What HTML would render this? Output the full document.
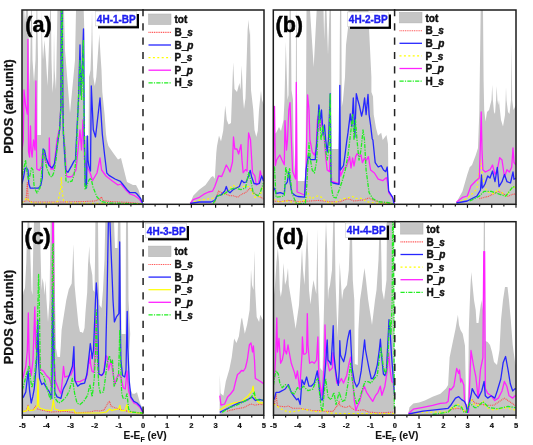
<!DOCTYPE html>
<html><head><meta charset="utf-8"><style>html,body{margin:0;padding:0;background:#fff;overflow:hidden}svg{display:block;filter:blur(0.3px)}</style></head><body>
<svg width="533" height="445" viewBox="0 0 533 445" font-family="Liberation Sans, Arial, sans-serif">
<rect width="533" height="445" fill="#fff"/>
<clipPath id="clipa"><rect x="22" y="10" width="242" height="194.3"/></clipPath>
<g clip-path="url(#clipa)">
<polygon points="22.0,205.0 22.0,10.0 24.3,10.0 25.0,25.0 26.0,10.0 28.0,10.0 28.8,40.0 29.5,90.0 30.3,60.0 31.1,10.0 31.9,10.0 32.5,60.0 34.0,82.0 35.5,60.0 36.5,10.0 37.3,10.0 38.0,60.0 37.6,100.0 37.5,135.0 41.0,135.0 41.2,80.0 41.6,10.0 42.2,40.0 43.0,60.0 44.5,40.0 46.0,60.0 47.5,86.0 48.5,60.0 50.1,10.0 50.9,10.0 51.5,60.0 52.5,93.0 53.5,80.0 54.0,30.0 54.6,70.0 56.0,90.0 57.4,10.0 64.0,10.0 65.0,50.0 70.0,113.0 75.0,60.0 76.0,10.0 83.7,10.0 84.6,40.0 85.0,136.0 88.6,136.0 89.0,77.0 89.5,75.0 90.5,70.0 91.5,40.0 92.0,10.0 92.5,40.0 93.3,77.0 94.8,86.0 96.3,77.0 97.5,60.0 99.3,34.0 100.5,55.0 101.5,70.0 102.3,92.0 104.6,114.6 106.0,134.0 106.8,140.0 108.4,146.0 113.6,153.6 118.0,159.6 121.0,158.0 124.0,170.0 127.0,182.0 133.0,185.0 136.0,185.0 138.5,189.7 142.2,201.7 143.0,205.0" fill="#c5c5c5"/>
<polygon points="190.2,205.0 190.2,203.5 193.2,195.8 199.4,189.6 205.5,185.0 211.0,177.3 213.0,176.0 214.8,178.8 216.3,152.7 217.0,146.0 219.0,135.4 221.0,141.5 223.2,130.8 225.2,105.4 226.8,120.0 228.6,124.6 231.0,123.0 233.2,62.3 234.5,89.0 237.0,92.0 239.4,83.0 240.5,90.0 241.7,65.4 243.0,98.0 244.0,109.0 245.5,98.0 247.6,30.0 248.5,19.8 249.5,35.0 250.0,27.8 251.0,90.0 253.2,109.0 254.5,130.0 256.3,137.0 257.8,130.8 259.0,110.0 260.0,100.0 261.0,90.8 262.0,100.0 264.0,105.0 265.0,205.0" fill="#c5c5c5"/>
<polyline points="22.0,202.0 26.0,201.0 27.4,182.0 28.2,201.0 33.0,202.0 60.0,202.0 85.0,201.5 95.0,201.0 100.0,199.0 101.5,197.0 103.0,200.5 110.0,201.5 130.0,202.5 143.0,204.0" fill="none" stroke="#ff4c4c" stroke-width="1.1" stroke-linejoin="round" stroke-dasharray="1 0.8"/>
<polyline points="214.8,202.0 218.6,191.0 222.5,193.5 226.3,194.2 230.0,195.8 233.2,195.8 237.8,197.3 241.7,194.2 245.5,192.7 250.2,188.0 253.2,192.7 257.8,195.8 260.9,197.3 263.2,198.8 264.0,199.0" fill="none" stroke="#ff4c4c" stroke-width="1.1" stroke-linejoin="round" stroke-dasharray="1 0.8"/>
<polyline points="22.0,203.0 25.0,200.0 27.0,197.5 29.0,201.0 33.0,203.0 55.0,203.0 58.0,201.0 60.5,190.0 61.3,177.0 62.0,190.0 63.5,201.0 70.0,203.0 143.0,204.0" fill="none" stroke="#ffff00" stroke-width="1.2" stroke-linejoin="round" stroke-dasharray="2 2.4"/>
<polyline points="190.2,203.5 199.4,200.4 213.2,198.0 217.0,195.8 224.0,194.2 228.0,190.0 233.2,185.0 236.3,188.0 239.4,184.2 242.5,186.5 248.6,186.5 251.7,191.2 254.8,197.3 260.0,196.5 262.5,186.5 264.0,186.0" fill="none" stroke="#ffff00" stroke-width="1.2" stroke-linejoin="round" stroke-dasharray="2 2.4"/>
<polyline points="22.0,150.0 23.3,140.0 24.0,90.0 25.5,105.0 27.4,114.0 27.9,39.3 28.5,151.6 29.5,157.0 30.5,126.0 31.2,150.0 32.1,157.0 33.5,140.0 35.0,150.0 35.9,81.0 36.5,150.0 36.8,169.0 39.5,170.4 41.5,166.4 42.3,155.0 43.6,150.0 45.6,161.0 47.0,163.0 49.0,163.7 49.3,138.0 49.8,163.0 51.0,169.0 53.7,169.0 54.3,164.0 57.0,140.0 59.6,128.0 60.9,105.0 61.3,10.0 62.2,10.0 62.8,100.0 63.5,134.0 65.0,150.0 66.5,175.8 68.0,177.0 72.0,176.5 76.0,170.0 78.0,150.0 80.0,130.0 81.5,150.0 83.0,120.0 84.5,160.0 86.5,166.0 88.8,170.0 90.5,174.0 92.5,180.7 97.0,173.0 100.0,158.0 101.6,170.0 106.0,176.0 112.0,180.7 118.0,185.0 121.0,184.0 125.7,189.7 130.0,194.0 134.7,195.7 139.0,198.7 142.2,203.0 143.0,204.5" fill="none" stroke="#ff22ff" stroke-width="1.3" stroke-linejoin="round"/>
<polyline points="190.2,203.5 193.2,199.6 199.4,197.3 204.0,194.2 208.6,192.0 212.5,191.2 214.8,186.5 218.6,175.8 221.7,176.5 224.0,171.0 226.3,165.0 228.0,168.0 230.0,172.0 232.5,162.0 233.5,137.0 234.8,149.0 237.0,149.0 238.6,154.0 241.0,144.6 242.0,160.4 243.2,172.7 245.5,169.6 247.0,171.0 248.6,133.0 250.5,140.0 252.5,172.7 254.8,175.8 256.3,185.0 258.6,183.5 260.2,171.0 261.7,177.3 263.2,178.8 264.0,179.0" fill="none" stroke="#ff22ff" stroke-width="1.3" stroke-linejoin="round"/>
<polyline points="22.0,183.7 23.5,177.6 25.0,168.6 26.5,167.9 28.0,170.1 28.8,183.7 30.3,188.2 35.6,188.2 38.6,188.2 40.8,185.2 42.3,177.6 43.1,149.0 44.6,150.5 46.1,158.0 49.1,165.6 52.1,167.9 54.4,164.1 55.9,155.0 57.4,144.5 59.6,130.0 60.9,107.0 61.3,10.0 62.2,10.0 62.8,100.0 63.4,134.0 64.9,159.6 65.7,170.1 67.9,172.4 71.7,165.6 74.0,161.1 75.5,159.6 76.2,144.5 78.5,100.0 80.0,45.0 81.0,95.0 82.0,75.0 83.5,28.8 84.0,100.0 84.4,140.0 85.3,185.0 86.5,188.0 87.3,136.0 88.0,160.0 88.8,165.6 90.5,171.0 91.3,86.0 93.3,129.7 95.5,137.0 100.0,98.0 102.3,134.0 104.6,155.0 106.8,173.0 109.0,175.4 115.0,179.0 120.4,181.4 122.5,184.0 127.0,189.7 130.0,192.7 135.5,192.7 137.0,194.0 140.7,198.7 142.2,202.5 143.0,204.5" fill="none" stroke="#2626ff" stroke-width="1.3" stroke-linejoin="round"/>
<polyline points="190.2,203.5 199.4,202.0 211.0,202.0 214.8,200.4 217.0,195.8 221.0,195.0 224.8,191.0 226.3,186.5 227.8,191.0 230.0,192.7 233.2,189.6 236.3,188.0 239.4,186.5 241.7,180.4 244.0,182.7 246.3,182.0 248.6,175.8 250.2,170.4 251.7,177.3 254.0,183.5 257.1,184.2 259.4,183.5 261.7,175.8 263.2,180.4 264.0,181.0" fill="none" stroke="#2626ff" stroke-width="1.3" stroke-linejoin="round"/>
<polyline points="22.0,175.0 24.0,168.0 25.5,160.0 27.0,172.0 28.5,180.0 30.0,175.0 31.5,168.0 33.0,170.0 34.0,185.0 35.5,190.0 37.0,193.0 38.5,190.0 40.0,188.0 41.5,175.0 43.0,150.0 44.5,155.0 46.0,165.0 47.5,170.0 50.0,176.0 52.0,177.0 54.0,172.0 56.0,160.0 58.0,140.0 59.8,128.0 60.9,105.0 61.3,10.0 62.2,10.0 62.8,100.0 63.5,134.0 65.0,150.0 65.5,170.0 66.0,181.0 68.0,182.0 72.0,181.0 74.0,175.0 76.0,160.0 78.0,110.0 80.0,60.0 81.5,100.0 83.3,40.0 84.0,120.0 84.6,150.0 85.0,189.7 87.0,185.0 89.0,180.0 91.0,178.0 93.0,187.0 97.0,197.0 101.6,201.7 110.0,203.0 143.0,204.0" fill="none" stroke="#22ee22" stroke-width="1.3" stroke-linejoin="round" stroke-dasharray="4.2 1.2 1.2 1.2"/>
<polyline points="213.2,203.5 217.8,195.8 224.0,194.2 230.0,189.6 235.0,188.0 241.0,189.6 245.5,188.0 248.6,172.7 250.8,180.4 253.2,192.7 257.8,195.8 260.1,192.7 263.2,183.5 264.0,183.0" fill="none" stroke="#22ee22" stroke-width="1.3" stroke-linejoin="round" stroke-dasharray="4.2 1.2 1.2 1.2"/>
</g>
<line x1="143.0" y1="9" x2="143.0" y2="204.3" stroke="#222" stroke-width="1.5" stroke-dasharray="7.2 7.1"/>
<rect x="22" y="10" width="242.0" height="194.3" fill="none" stroke="#1c1c1c" stroke-width="1.5"/>
<line x1="22.00" y1="204.3" x2="22.00" y2="207.8" stroke="#1c1c1c" stroke-width="1.2"/>
<line x1="34.10" y1="204.3" x2="34.10" y2="206.60000000000002" stroke="#1c1c1c" stroke-width="1.2"/>
<line x1="46.20" y1="204.3" x2="46.20" y2="207.8" stroke="#1c1c1c" stroke-width="1.2"/>
<line x1="58.30" y1="204.3" x2="58.30" y2="206.60000000000002" stroke="#1c1c1c" stroke-width="1.2"/>
<line x1="70.40" y1="204.3" x2="70.40" y2="207.8" stroke="#1c1c1c" stroke-width="1.2"/>
<line x1="82.50" y1="204.3" x2="82.50" y2="206.60000000000002" stroke="#1c1c1c" stroke-width="1.2"/>
<line x1="94.60" y1="204.3" x2="94.60" y2="207.8" stroke="#1c1c1c" stroke-width="1.2"/>
<line x1="106.70" y1="204.3" x2="106.70" y2="206.60000000000002" stroke="#1c1c1c" stroke-width="1.2"/>
<line x1="118.80" y1="204.3" x2="118.80" y2="207.8" stroke="#1c1c1c" stroke-width="1.2"/>
<line x1="130.90" y1="204.3" x2="130.90" y2="206.60000000000002" stroke="#1c1c1c" stroke-width="1.2"/>
<line x1="143.00" y1="204.3" x2="143.00" y2="207.8" stroke="#1c1c1c" stroke-width="1.2"/>
<line x1="155.10" y1="204.3" x2="155.10" y2="206.60000000000002" stroke="#1c1c1c" stroke-width="1.2"/>
<line x1="167.20" y1="204.3" x2="167.20" y2="207.8" stroke="#1c1c1c" stroke-width="1.2"/>
<line x1="179.30" y1="204.3" x2="179.30" y2="206.60000000000002" stroke="#1c1c1c" stroke-width="1.2"/>
<line x1="191.40" y1="204.3" x2="191.40" y2="207.8" stroke="#1c1c1c" stroke-width="1.2"/>
<line x1="203.50" y1="204.3" x2="203.50" y2="206.60000000000002" stroke="#1c1c1c" stroke-width="1.2"/>
<line x1="215.60" y1="204.3" x2="215.60" y2="207.8" stroke="#1c1c1c" stroke-width="1.2"/>
<line x1="227.70" y1="204.3" x2="227.70" y2="206.60000000000002" stroke="#1c1c1c" stroke-width="1.2"/>
<line x1="239.80" y1="204.3" x2="239.80" y2="207.8" stroke="#1c1c1c" stroke-width="1.2"/>
<line x1="251.90" y1="204.3" x2="251.90" y2="206.60000000000002" stroke="#1c1c1c" stroke-width="1.2"/>
<line x1="264.00" y1="204.3" x2="264.00" y2="207.8" stroke="#1c1c1c" stroke-width="1.2"/>
<text x="25.3" y="32.3" font-size="21.5" font-weight="bold" fill="#000" stroke="#000" stroke-width="0.5">(a)</text>
<rect x="98.0" y="14.0" width="41" height="14.4" fill="#000"/>
<rect x="95.5" y="11.5" width="41" height="14.4" fill="#fff" stroke="#d0d0d0" stroke-width="0.6"/>
<text x="116.3" y="22.7" font-size="10" font-weight="bold" text-anchor="middle" fill="#1e1ef0" stroke="#1e1ef0" stroke-width="0.35">4H-1-BP</text>
<rect x="148.5" y="14" width="22.5" height="10.6" fill="#c5c5c5" stroke="#b0b0b0" stroke-width="0.5"/>
<text x="174.5" y="23.2" font-size="10" font-weight="bold" fill="#111" stroke="#111" stroke-width="0.45">tot</text>
<line x1="148.5" y1="32.4" x2="171.0" y2="32.4" stroke="#ff4c4c" stroke-width="1.1" stroke-dasharray="1 0.8"/>
<text x="174.5" y="36.0" font-size="10" font-weight="bold" fill="#111" stroke="#111" stroke-width="0.45">B_<tspan font-style="italic">s</tspan></text>
<line x1="148.5" y1="45.0" x2="171.0" y2="45.0" stroke="#2626ff" stroke-width="1.3"/>
<text x="174.5" y="48.6" font-size="10" font-weight="bold" fill="#111" stroke="#111" stroke-width="0.45">B_<tspan font-style="italic">p</tspan></text>
<line x1="148.5" y1="57.6" x2="171.0" y2="57.6" stroke="#ffff00" stroke-width="1.2" stroke-dasharray="2 2.4"/>
<text x="174.5" y="61.2" font-size="10" font-weight="bold" fill="#111" stroke="#111" stroke-width="0.45">P_<tspan font-style="italic">s</tspan></text>
<line x1="148.5" y1="70.2" x2="171.0" y2="70.2" stroke="#ff22ff" stroke-width="1.3"/>
<text x="174.5" y="73.8" font-size="10" font-weight="bold" fill="#111" stroke="#111" stroke-width="0.45">P_<tspan font-style="italic">p</tspan></text>
<line x1="148.5" y1="82.8" x2="171.0" y2="82.8" stroke="#22ee22" stroke-width="1.3" stroke-dasharray="4.2 1.2 1.2 1.2"/>
<text x="174.5" y="86.4" font-size="10" font-weight="bold" fill="#111" stroke="#111" stroke-width="0.45">H_<tspan font-style="italic">s</tspan></text>
<clipPath id="clipb"><rect x="273.3" y="10" width="242.7" height="194.3"/></clipPath>
<g clip-path="url(#clipb)">
<polygon points="273.3,205.0 273.3,134.0 276.0,133.0 279.0,127.0 281.0,131.0 283.5,120.0 284.5,100.0 285.8,41.6 287.5,100.0 288.5,95.0 289.6,10.0 290.8,10.0 291.5,90.0 293.0,100.0 293.5,140.0 294.5,165.0 295.5,178.0 296.0,30.0 296.4,10.0 296.8,30.0 297.3,181.0 305.5,181.0 306.0,100.0 306.5,10.0 310.0,10.0 313.7,67.0 316.7,10.0 323.5,10.0 324.2,40.0 325.0,10.0 326.5,10.0 328.0,55.0 329.5,10.0 331.0,10.0 331.5,149.0 338.5,149.0 339.3,120.0 340.0,10.0 341.3,10.0 341.8,107.0 343.0,100.0 345.0,77.0 346.0,45.0 348.0,28.0 348.5,10.0 368.5,10.0 369.0,28.0 371.4,77.0 371.4,92.0 373.0,96.6 373.7,114.6 376.0,128.0 378.0,135.7 381.2,132.7 382.7,140.0 386.5,135.0 388.0,144.0 388.5,190.0 391.0,196.0 394.0,203.0 394.6,205.0" fill="#c5c5c5"/>
<polygon points="456.4,205.0 456.4,202.2 462.4,191.4 467.3,174.5 469.7,167.3 472.0,165.0 475.7,155.3 478.0,148.0 479.3,112.0 480.7,10.0 483.0,10.0 483.6,80.0 484.2,110.0 485.5,121.6 487.0,112.0 489.0,110.0 491.5,100.0 492.2,84.8 492.9,100.0 494.0,112.0 495.0,114.0 496.0,100.0 496.7,86.0 497.4,100.0 498.3,105.0 499.0,99.7 499.7,108.0 501.0,120.0 503.0,126.4 505.0,115.0 505.6,100.0 506.0,87.0 506.5,100.0 508.0,112.0 509.5,114.0 511.0,100.0 511.6,43.5 512.2,100.0 513.5,110.0 516.0,105.0 517.0,205.0" fill="#c5c5c5"/>
<polyline points="273.3,201.0 280.0,201.7 288.0,200.4 300.0,201.7 318.0,200.4 330.0,201.7 340.0,201.7 348.0,198.7 354.0,201.0 363.0,200.0 369.0,198.0 375.0,201.0 385.7,202.5 394.6,204.0" fill="none" stroke="#ff4c4c" stroke-width="1.1" stroke-linejoin="round" stroke-dasharray="1 0.8"/>
<polyline points="479.3,198.6 488.9,196.2 498.5,191.4 508.0,196.2 514.0,193.8 516.0,195.0" fill="none" stroke="#ff4c4c" stroke-width="1.1" stroke-linejoin="round" stroke-dasharray="1 0.8"/>
<polyline points="273.3,199.5 274.5,199.5 279.0,201.7 288.0,201.0 295.6,203.3 305.4,200.0 308.4,193.5 310.6,199.0 318.2,195.7 321.5,197.2 325.7,201.7 333.2,203.3 339.3,200.4 343.0,198.7 348.0,198.0 352.6,196.5 355.6,198.7 358.6,198.0 363.0,198.7 366.0,201.7 378.0,203.3 394.6,204.0" fill="none" stroke="#ffff00" stroke-width="1.2" stroke-linejoin="round" stroke-dasharray="2 2.4"/>
<polyline points="456.4,203.0 467.3,198.6 476.9,189.0 480.5,160.0 482.9,179.3 486.5,191.4 493.7,193.8 498.5,189.0 505.7,196.2 513.0,186.6 516.0,188.0" fill="none" stroke="#ffff00" stroke-width="1.2" stroke-linejoin="round" stroke-dasharray="2 2.4"/>
<polyline points="273.3,165.0 274.5,106.4 275.3,165.6 276.5,160.0 279.8,155.0 282.0,160.0 284.3,164.8 285.0,120.7 286.5,150.0 287.5,140.0 288.8,110.0 290.0,102.6 291.0,130.0 292.6,171.6 295.6,179.0 296.3,82.3 297.1,192.0 304.6,195.0 306.0,170.0 307.6,95.0 309.0,110.0 309.9,140.0 311.0,145.0 312.2,152.0 314.4,155.0 316.0,150.0 317.4,120.0 318.5,115.0 320.0,130.0 322.0,120.0 324.0,135.0 325.7,156.6 327.2,170.0 329.5,171.6 330.2,155.0 331.7,181.4 339.3,183.7 339.8,146.0 340.5,176.0 343.8,168.6 346.6,166.4 349.6,156.6 351.0,168.0 352.6,158.0 354.0,166.0 355.6,156.6 357.1,153.6 359.4,156.6 361.0,155.0 362.4,162.6 364.6,158.0 366.0,161.0 368.4,156.6 370.6,170.0 374.4,173.0 378.2,179.2 382.7,180.7 386.5,177.6 387.5,182.0 388.7,192.7 393.2,198.7 394.6,204.0" fill="none" stroke="#ff22ff" stroke-width="1.3" stroke-linejoin="round"/>
<polyline points="456.4,202.2 462.4,197.4 467.3,196.0 470.9,186.0 475.7,181.0 479.3,178.0 480.5,140.0 481.2,112.0 482.0,150.0 482.9,169.7 485.3,172.0 490.0,169.7 492.5,165.0 495.0,174.5 497.3,169.7 499.7,157.7 502.0,160.0 504.5,177.0 506.9,169.7 509.3,172.0 511.7,167.3 513.0,148.0 514.0,162.5 516.0,165.0" fill="none" stroke="#ff22ff" stroke-width="1.3" stroke-linejoin="round"/>
<polyline points="273.3,190.0 274.5,188.2 276.0,193.5 280.5,192.7 284.3,194.2 285.0,185.2 287.3,182.2 288.8,172.0 290.3,183.7 291.8,192.7 295.6,195.7 297.8,196.5 304.6,197.2 306.0,170.0 308.4,155.0 310.6,159.6 315.2,159.6 317.0,140.0 318.9,104.9 320.3,120.0 321.5,110.0 323.0,135.0 324.5,125.0 325.7,140.0 327.2,152.0 328.5,140.0 330.2,93.6 331.0,182.2 333.2,183.0 339.0,184.4 339.8,85.3 340.5,170.0 343.5,165.6 345.0,155.0 346.5,143.0 348.0,132.7 350.3,113.9 351.8,126.7 353.3,98.0 354.8,137.2 356.3,93.6 357.8,100.0 359.4,105.6 361.6,116.2 363.0,110.0 364.6,98.0 366.1,114.6 368.0,94.3 369.1,114.6 370.6,125.2 372.2,138.7 372.9,140.0 375.2,162.6 378.2,167.0 381.2,165.6 383.5,170.0 385.7,171.6 387.2,167.0 388.7,191.2 392.5,197.2 394.0,203.3 394.6,204.0" fill="none" stroke="#2626ff" stroke-width="1.3" stroke-linejoin="round"/>
<polyline points="456.4,203.0 467.3,201.0 476.9,196.2 480.5,190.0 481.5,175.0 482.2,188.0 483.5,186.6 485.0,184.0 487.7,176.0 490.0,178.0 492.5,171.0 495.0,181.7 497.3,167.3 499.0,186.6 502.0,181.7 504.5,174.5 507.0,181.7 510.5,183.0 513.0,172.0 514.0,179.3 516.0,178.0" fill="none" stroke="#2626ff" stroke-width="1.3" stroke-linejoin="round"/>
<polyline points="273.3,175.0 274.5,167.0 276.0,197.2 282.0,196.5 284.3,195.7 285.8,167.0 288.0,177.6 289.6,168.6 291.8,192.7 294.0,198.0 296.3,203.3 300.0,204.0 305.4,203.3 306.8,185.2 309.0,143.0 310.5,160.0 312.2,170.0 314.4,173.0 316.7,161.0 318.0,130.0 319.5,110.0 321.0,140.0 323.0,125.0 325.0,145.0 327.0,160.0 329.0,150.0 330.2,93.6 331.0,185.2 333.2,197.2 336.0,198.0 339.3,189.7 342.3,180.7 345.3,170.0 348.0,155.0 351.0,130.0 352.6,114.6 354.0,140.0 355.5,120.0 357.0,140.0 359.0,160.0 361.0,150.0 363.0,130.0 364.5,140.0 366.1,170.0 369.1,192.7 372.9,198.7 378.2,201.7 387.0,202.5 394.6,204.0" fill="none" stroke="#22ee22" stroke-width="1.3" stroke-linejoin="round" stroke-dasharray="4.2 1.2 1.2 1.2"/>
<polyline points="469.7,201.0 479.3,196.2 484.0,191.4 491.3,191.4 498.5,193.8 505.7,196.2 513.0,186.6 516.0,188.0" fill="none" stroke="#22ee22" stroke-width="1.3" stroke-linejoin="round" stroke-dasharray="4.2 1.2 1.2 1.2"/>
</g>
<line x1="394.6" y1="9" x2="394.6" y2="204.3" stroke="#222" stroke-width="1.5" stroke-dasharray="7.2 7.1"/>
<rect x="273.3" y="10" width="242.7" height="194.3" fill="none" stroke="#1c1c1c" stroke-width="1.5"/>
<line x1="273.30" y1="204.3" x2="273.30" y2="207.8" stroke="#1c1c1c" stroke-width="1.2"/>
<line x1="285.44" y1="204.3" x2="285.44" y2="206.60000000000002" stroke="#1c1c1c" stroke-width="1.2"/>
<line x1="297.57" y1="204.3" x2="297.57" y2="207.8" stroke="#1c1c1c" stroke-width="1.2"/>
<line x1="309.70" y1="204.3" x2="309.70" y2="206.60000000000002" stroke="#1c1c1c" stroke-width="1.2"/>
<line x1="321.84" y1="204.3" x2="321.84" y2="207.8" stroke="#1c1c1c" stroke-width="1.2"/>
<line x1="333.98" y1="204.3" x2="333.98" y2="206.60000000000002" stroke="#1c1c1c" stroke-width="1.2"/>
<line x1="346.11" y1="204.3" x2="346.11" y2="207.8" stroke="#1c1c1c" stroke-width="1.2"/>
<line x1="358.25" y1="204.3" x2="358.25" y2="206.60000000000002" stroke="#1c1c1c" stroke-width="1.2"/>
<line x1="370.38" y1="204.3" x2="370.38" y2="207.8" stroke="#1c1c1c" stroke-width="1.2"/>
<line x1="382.51" y1="204.3" x2="382.51" y2="206.60000000000002" stroke="#1c1c1c" stroke-width="1.2"/>
<line x1="394.65" y1="204.3" x2="394.65" y2="207.8" stroke="#1c1c1c" stroke-width="1.2"/>
<line x1="406.78" y1="204.3" x2="406.78" y2="206.60000000000002" stroke="#1c1c1c" stroke-width="1.2"/>
<line x1="418.92" y1="204.3" x2="418.92" y2="207.8" stroke="#1c1c1c" stroke-width="1.2"/>
<line x1="431.06" y1="204.3" x2="431.06" y2="206.60000000000002" stroke="#1c1c1c" stroke-width="1.2"/>
<line x1="443.19" y1="204.3" x2="443.19" y2="207.8" stroke="#1c1c1c" stroke-width="1.2"/>
<line x1="455.33" y1="204.3" x2="455.33" y2="206.60000000000002" stroke="#1c1c1c" stroke-width="1.2"/>
<line x1="467.46" y1="204.3" x2="467.46" y2="207.8" stroke="#1c1c1c" stroke-width="1.2"/>
<line x1="479.60" y1="204.3" x2="479.60" y2="206.60000000000002" stroke="#1c1c1c" stroke-width="1.2"/>
<line x1="491.73" y1="204.3" x2="491.73" y2="207.8" stroke="#1c1c1c" stroke-width="1.2"/>
<line x1="503.87" y1="204.3" x2="503.87" y2="206.60000000000002" stroke="#1c1c1c" stroke-width="1.2"/>
<line x1="516.00" y1="204.3" x2="516.00" y2="207.8" stroke="#1c1c1c" stroke-width="1.2"/>
<text x="275.5" y="32.3" font-size="21.5" font-weight="bold" fill="#000" stroke="#000" stroke-width="0.5">(b)</text>
<rect x="350.0" y="14.5" width="41" height="14.4" fill="#000"/>
<rect x="347.5" y="12" width="41" height="14.4" fill="#fff" stroke="#d0d0d0" stroke-width="0.6"/>
<text x="368.3" y="23.2" font-size="10" font-weight="bold" text-anchor="middle" fill="#1e1ef0" stroke="#1e1ef0" stroke-width="0.35">4H-2-BP</text>
<rect x="399.5" y="12.3" width="22.5" height="10.6" fill="#c5c5c5" stroke="#b0b0b0" stroke-width="0.5"/>
<text x="425.5" y="21.5" font-size="10" font-weight="bold" fill="#111" stroke="#111" stroke-width="0.45">tot</text>
<line x1="399.5" y1="30.7" x2="422.0" y2="30.7" stroke="#ff4c4c" stroke-width="1.1" stroke-dasharray="1 0.8"/>
<text x="425.5" y="34.3" font-size="10" font-weight="bold" fill="#111" stroke="#111" stroke-width="0.45">B_<tspan font-style="italic">s</tspan></text>
<line x1="399.5" y1="43.3" x2="422.0" y2="43.3" stroke="#2626ff" stroke-width="1.3"/>
<text x="425.5" y="46.9" font-size="10" font-weight="bold" fill="#111" stroke="#111" stroke-width="0.45">B_<tspan font-style="italic">p</tspan></text>
<line x1="399.5" y1="55.9" x2="422.0" y2="55.9" stroke="#ffff00" stroke-width="1.2" stroke-dasharray="2 2.4"/>
<text x="425.5" y="59.5" font-size="10" font-weight="bold" fill="#111" stroke="#111" stroke-width="0.45">P_<tspan font-style="italic">s</tspan></text>
<line x1="399.5" y1="68.5" x2="422.0" y2="68.5" stroke="#ff22ff" stroke-width="1.3"/>
<text x="425.5" y="72.1" font-size="10" font-weight="bold" fill="#111" stroke="#111" stroke-width="0.45">P_<tspan font-style="italic">p</tspan></text>
<line x1="399.5" y1="81.1" x2="422.0" y2="81.1" stroke="#22ee22" stroke-width="1.3" stroke-dasharray="4.2 1.2 1.2 1.2"/>
<text x="425.5" y="84.7" font-size="10" font-weight="bold" fill="#111" stroke="#111" stroke-width="0.45">H_<tspan font-style="italic">s</tspan></text>
<clipPath id="clipc"><rect x="22.3" y="221.7" width="241.5" height="193.5"/></clipPath>
<g clip-path="url(#clipc)">
<polygon points="22.3,416.0 22.3,300.0 23.5,292.0 25.0,288.0 26.3,262.0 27.0,235.0 27.6,221.0 28.0,221.0 29.3,221.0 30.2,250.0 31.5,290.0 32.5,295.0 33.2,250.0 34.0,221.0 40.0,221.0 40.5,250.0 41.5,290.0 42.5,278.0 43.5,283.0 44.6,295.0 45.5,280.0 46.5,300.0 48.0,322.0 49.5,300.0 50.6,221.0 54.4,221.0 55.0,300.0 56.0,348.0 57.5,357.0 60.0,357.0 60.8,345.0 61.6,330.0 64.4,312.0 66.3,300.0 68.8,289.3 71.7,283.5 72.6,265.0 73.3,244.0 74.0,265.0 74.6,285.0 76.0,300.0 78.5,325.0 80.0,332.0 81.3,332.0 83.0,333.0 84.5,328.0 85.5,312.0 86.5,300.0 87.2,292.0 88.0,265.0 88.7,255.0 89.3,246.0 89.9,262.0 91.0,268.0 92.3,275.0 93.0,290.0 94.5,292.0 95.0,260.0 95.4,221.0 98.0,221.0 98.6,280.0 99.5,305.0 101.5,308.0 103.0,290.0 104.5,260.0 105.3,221.0 114.0,221.0 115.0,248.0 117.5,248.0 118.0,221.0 120.4,221.0 121.0,300.0 121.6,334.0 125.5,334.0 126.0,221.0 128.0,221.0 128.5,300.0 130.2,334.0 129.3,350.0 129.3,386.0 132.4,393.8 134.7,393.8 137.0,392.3 140.0,403.0 143.0,409.0 143.0,416.0" fill="#c5c5c5"/>
<polygon points="219.6,416.0 219.6,412.4 219.8,374.3 220.5,393.3 223.4,395.7 225.8,381.4 229.3,369.5 231.7,357.6 234.1,338.6 236.5,343.0 238.9,336.2 241.2,319.5 242.0,317.6 243.6,326.7 244.8,333.8 247.2,324.3 249.6,310.0 250.5,288.0 251.0,269.3 252.0,285.0 253.5,290.0 254.4,250.2 255.2,290.0 256.7,317.0 259.1,321.9 260.3,314.8 262.7,319.5 263.8,320.0 264.5,416.0" fill="#c5c5c5"/>
<polyline points="22.3,411.4 26.0,411.0 28.1,405.3 28.9,410.6 33.0,410.0 35.7,406.0 37.3,409.0 50.0,412.0 66.0,411.4 75.4,412.9 90.0,412.0 95.0,410.6 100.0,411.0 104.0,410.0 108.0,403.0 109.5,401.4 111.0,406.0 114.1,407.5 118.6,409.0 128.0,411.4 143.0,413.5" fill="none" stroke="#ff4c4c" stroke-width="1.1" stroke-linejoin="round" stroke-dasharray="1 0.8"/>
<polyline points="227.0,411.2 236.5,408.8 243.6,407.6 250.8,404.0 255.5,405.2 260.3,404.0 263.8,405.2" fill="none" stroke="#ff4c4c" stroke-width="1.1" stroke-linejoin="round" stroke-dasharray="1 0.8"/>
<polyline points="22.3,411.4 25.0,411.4 27.3,410.0 28.1,406.0 29.6,410.6 34.2,409.8 37.3,406.0 38.0,378.5 38.8,406.0 40.3,408.3 45.0,409.8 51.8,410.6 53.3,400.0 54.8,409.0 60.0,410.6 72.4,409.8 73.9,409.8 75.4,412.9 100.0,413.0 106.4,412.0 109.5,409.0 111.8,410.6 114.1,409.8 118.6,409.0 119.9,405.3 120.9,410.6 125.0,410.6 127.0,404.5 128.6,412.0 143.0,413.5" fill="none" stroke="#ffff00" stroke-width="1.2" stroke-linejoin="round"/>
<polyline points="219.8,410.0 227.0,405.2 234.1,402.9 241.2,401.7 248.4,395.7 252.0,391.0 253.1,386.2 254.3,395.7 256.7,400.5 259.1,402.9 263.8,402.9" fill="none" stroke="#ffff00" stroke-width="1.2" stroke-linejoin="round"/>
<polyline points="22.3,380.0 23.5,375.5 25.8,366.3 27.3,351.0 28.3,313.0 29.0,351.0 29.8,366.0 31.2,375.5 33.0,360.0 34.8,307.0 35.7,348.0 37.3,351.0 38.2,340.0 39.0,350.0 40.3,369.4 43.4,371.0 46.4,375.5 49.5,378.5 51.8,387.7 52.3,300.0 52.7,221.0 53.3,221.0 53.8,300.0 54.3,360.0 55.6,381.6 58.6,389.2 60.9,393.8 62.5,378.5 63.5,366.3 64.7,377.0 67.8,376.2 70.8,375.0 73.1,369.4 74.0,360.0 75.4,381.6 80.0,381.6 83.0,380.0 86.1,378.5 87.3,374.0 88.9,361.7 89.2,363.3 90.0,355.0 90.5,363.3 91.9,370.9 93.8,372.4 94.2,367.8 95.5,340.0 95.8,310.6 96.5,340.0 97.0,355.0 98.8,374.0 101.1,375.5 103.5,374.0 105.7,355.6 107.2,357.0 108.5,370.0 111.0,360.2 112.5,370.0 114.8,384.6 116.6,378.0 118.6,374.0 120.9,377.0 123.2,387.7 125.3,389.0 127.0,370.9 128.6,390.7 130.9,398.4 133.9,403.0 137.0,404.5 140.0,407.5 143.0,412.9" fill="none" stroke="#ff22ff" stroke-width="1.3" stroke-linejoin="round"/>
<polyline points="219.8,395.7 221.0,405.2 224.6,404.0 227.6,397.0 230.5,394.0 233.6,390.0 235.5,382.0 237.5,374.5 239.5,373.0 241.5,370.5 243.5,371.0 245.4,368.0 247.3,360.0 249.4,344.8 251.0,343.0 252.5,352.0 253.4,346.0 254.5,360.0 255.3,378.4 258.0,380.0 261.3,382.0 263.8,384.0" fill="none" stroke="#ff22ff" stroke-width="1.3" stroke-linejoin="round"/>
<polyline points="22.3,398.0 23.5,396.9 25.8,392.0 28.1,370.9 29.6,390.7 31.2,403.0 32.7,396.9 34.2,389.2 36.5,363.0 37.8,320.0 38.6,363.0 39.6,378.5 41.8,384.6 43.9,383.0 46.4,387.7 49.5,392.0 51.8,398.4 52.4,330.0 52.8,290.0 53.3,330.0 54.8,392.3 57.1,396.9 60.9,398.4 63.2,389.2 66.3,383.1 69.3,375.5 72.4,366.3 73.9,346.7 74.7,380.0 77.7,386.2 80.5,384.0 84.6,383.1 86.9,374.0 89.2,354.1 90.3,343.7 91.5,352.0 92.2,358.7 93.5,350.0 95.5,300.0 96.3,283.0 97.5,300.0 98.8,374.0 101.8,375.5 104.0,372.0 105.7,360.0 106.0,340.7 107.0,300.0 108.4,221.0 109.9,221.0 111.0,250.0 112.0,273.7 113.0,300.0 114.4,321.9 116.6,316.6 118.9,313.6 119.7,242.0 120.4,330.0 120.9,360.0 122.5,375.5 124.7,377.0 126.0,370.0 127.2,311.4 127.8,348.0 129.3,381.6 130.9,396.9 133.9,401.4 137.0,403.0 140.0,406.0 143.0,412.0" fill="none" stroke="#2626ff" stroke-width="1.3" stroke-linejoin="round"/>
<polyline points="219.8,412.4 227.0,408.8 234.1,405.2 238.9,402.9 243.6,401.7 248.4,399.3 252.0,396.9 255.5,400.5 259.1,399.3 263.8,400.5" fill="none" stroke="#2626ff" stroke-width="1.3" stroke-linejoin="round"/>
<polyline points="22.3,390.0 23.5,386.2 26.0,376.0 28.9,366.3 30.4,378.5 31.9,387.7 34.2,378.5 36.5,356.0 38.0,300.0 38.6,274.5 39.3,300.0 40.3,372.4 43.4,375.5 46.4,386.2 49.5,396.9 51.0,400.0 52.2,300.0 52.5,243.6 53.2,243.6 53.6,300.0 54.8,398.0 58.6,403.0 61.7,401.4 66.3,396.9 69.3,390.7 72.4,378.5 74.7,393.8 77.0,403.0 80.0,404.5 84.0,401.0 87.6,395.3 89.9,384.6 92.2,396.9 94.3,378.0 95.7,348.0 96.3,310.0 97.3,355.0 98.8,386.2 100.3,393.0 103.4,392.0 104.9,381.6 107.2,363.3 109.5,355.6 111.0,363.3 112.5,360.2 114.1,386.2 116.4,381.6 118.6,374.0 119.8,330.0 120.6,363.3 121.7,393.8 123.2,398.4 125.5,398.4 127.0,393.8 128.6,409.0 130.9,412.0 143.0,413.0" fill="none" stroke="#22ee22" stroke-width="1.3" stroke-linejoin="round" stroke-dasharray="4.2 1.2 1.2 1.2"/>
<polyline points="222.2,412.4 229.3,407.6 236.5,405.2 243.6,401.7 250.8,398.1 254.3,392.1 255.5,399.3 260.3,400.5 263.8,399.3" fill="none" stroke="#22ee22" stroke-width="1.3" stroke-linejoin="round" stroke-dasharray="4.2 1.2 1.2 1.2"/>
</g>
<line x1="143.1" y1="220.7" x2="143.1" y2="415.2" stroke="#222" stroke-width="1.5" stroke-dasharray="7.2 7.1"/>
<rect x="22.3" y="221.7" width="241.5" height="193.5" fill="none" stroke="#1c1c1c" stroke-width="1.5"/>
<line x1="22.30" y1="415.2" x2="22.30" y2="418.7" stroke="#1c1c1c" stroke-width="1.2"/>
<line x1="34.38" y1="415.2" x2="34.38" y2="417.5" stroke="#1c1c1c" stroke-width="1.2"/>
<line x1="46.45" y1="415.2" x2="46.45" y2="418.7" stroke="#1c1c1c" stroke-width="1.2"/>
<line x1="58.53" y1="415.2" x2="58.53" y2="417.5" stroke="#1c1c1c" stroke-width="1.2"/>
<line x1="70.60" y1="415.2" x2="70.60" y2="418.7" stroke="#1c1c1c" stroke-width="1.2"/>
<line x1="82.67" y1="415.2" x2="82.67" y2="417.5" stroke="#1c1c1c" stroke-width="1.2"/>
<line x1="94.75" y1="415.2" x2="94.75" y2="418.7" stroke="#1c1c1c" stroke-width="1.2"/>
<line x1="106.83" y1="415.2" x2="106.83" y2="417.5" stroke="#1c1c1c" stroke-width="1.2"/>
<line x1="118.90" y1="415.2" x2="118.90" y2="418.7" stroke="#1c1c1c" stroke-width="1.2"/>
<line x1="130.97" y1="415.2" x2="130.97" y2="417.5" stroke="#1c1c1c" stroke-width="1.2"/>
<line x1="143.05" y1="415.2" x2="143.05" y2="418.7" stroke="#1c1c1c" stroke-width="1.2"/>
<line x1="155.12" y1="415.2" x2="155.12" y2="417.5" stroke="#1c1c1c" stroke-width="1.2"/>
<line x1="167.20" y1="415.2" x2="167.20" y2="418.7" stroke="#1c1c1c" stroke-width="1.2"/>
<line x1="179.28" y1="415.2" x2="179.28" y2="417.5" stroke="#1c1c1c" stroke-width="1.2"/>
<line x1="191.35" y1="415.2" x2="191.35" y2="418.7" stroke="#1c1c1c" stroke-width="1.2"/>
<line x1="203.43" y1="415.2" x2="203.43" y2="417.5" stroke="#1c1c1c" stroke-width="1.2"/>
<line x1="215.50" y1="415.2" x2="215.50" y2="418.7" stroke="#1c1c1c" stroke-width="1.2"/>
<line x1="227.58" y1="415.2" x2="227.58" y2="417.5" stroke="#1c1c1c" stroke-width="1.2"/>
<line x1="239.65" y1="415.2" x2="239.65" y2="418.7" stroke="#1c1c1c" stroke-width="1.2"/>
<line x1="251.73" y1="415.2" x2="251.73" y2="417.5" stroke="#1c1c1c" stroke-width="1.2"/>
<line x1="263.80" y1="415.2" x2="263.80" y2="418.7" stroke="#1c1c1c" stroke-width="1.2"/>
<text x="22.30" y="427.59999999999997" font-size="7.6" font-weight="bold" text-anchor="middle" fill="#111" stroke="#111" stroke-width="0.2">-5</text>
<text x="46.45" y="427.59999999999997" font-size="7.6" font-weight="bold" text-anchor="middle" fill="#111" stroke="#111" stroke-width="0.2">-4</text>
<text x="70.60" y="427.59999999999997" font-size="7.6" font-weight="bold" text-anchor="middle" fill="#111" stroke="#111" stroke-width="0.2">-3</text>
<text x="94.75" y="427.59999999999997" font-size="7.6" font-weight="bold" text-anchor="middle" fill="#111" stroke="#111" stroke-width="0.2">-2</text>
<text x="118.90" y="427.59999999999997" font-size="7.6" font-weight="bold" text-anchor="middle" fill="#111" stroke="#111" stroke-width="0.2">-1</text>
<text x="143.05" y="427.59999999999997" font-size="7.6" font-weight="bold" text-anchor="middle" fill="#111" stroke="#111" stroke-width="0.2">0</text>
<text x="167.20" y="427.59999999999997" font-size="7.6" font-weight="bold" text-anchor="middle" fill="#111" stroke="#111" stroke-width="0.2">1</text>
<text x="191.35" y="427.59999999999997" font-size="7.6" font-weight="bold" text-anchor="middle" fill="#111" stroke="#111" stroke-width="0.2">2</text>
<text x="215.50" y="427.59999999999997" font-size="7.6" font-weight="bold" text-anchor="middle" fill="#111" stroke="#111" stroke-width="0.2">3</text>
<text x="239.65" y="427.59999999999997" font-size="7.6" font-weight="bold" text-anchor="middle" fill="#111" stroke="#111" stroke-width="0.2">4</text>
<text x="263.80" y="427.59999999999997" font-size="7.6" font-weight="bold" text-anchor="middle" fill="#111" stroke="#111" stroke-width="0.2">5</text>
<text x="145.1" y="439.2" font-size="10.2" font-weight="bold" text-anchor="middle" fill="#111" stroke="#111" stroke-width="0.1">E-E<tspan font-size="7" dy="2.5">F</tspan><tspan dy="-2.5"> (eV)</tspan></text>
<text x="24.5" y="244.0" font-size="21.5" font-weight="bold" fill="#000" stroke="#000" stroke-width="0.5">(c)</text>
<rect x="148.0" y="226.0" width="41" height="14.4" fill="#000"/>
<rect x="145.5" y="223.5" width="41" height="14.4" fill="#fff" stroke="#d0d0d0" stroke-width="0.6"/>
<text x="166.3" y="234.7" font-size="10" font-weight="bold" text-anchor="middle" fill="#1e1ef0" stroke="#1e1ef0" stroke-width="0.35">4H-3-BP</text>
<rect x="148.5" y="246.1" width="22.5" height="10.6" fill="#c5c5c5" stroke="#b0b0b0" stroke-width="0.5"/>
<text x="174.5" y="255.29999999999998" font-size="10" font-weight="bold" fill="#111" stroke="#111" stroke-width="0.45">tot</text>
<line x1="148.5" y1="264.5" x2="171.0" y2="264.5" stroke="#ff4c4c" stroke-width="1.1" stroke-dasharray="1 0.8"/>
<text x="174.5" y="268.1" font-size="10" font-weight="bold" fill="#111" stroke="#111" stroke-width="0.45">B_<tspan font-style="italic">s</tspan></text>
<line x1="148.5" y1="277.1" x2="171.0" y2="277.1" stroke="#2626ff" stroke-width="1.3"/>
<text x="174.5" y="280.7" font-size="10" font-weight="bold" fill="#111" stroke="#111" stroke-width="0.45">B_<tspan font-style="italic">p</tspan></text>
<line x1="148.5" y1="289.7" x2="171.0" y2="289.7" stroke="#ffff00" stroke-width="1.2"/>
<text x="174.5" y="293.3" font-size="10" font-weight="bold" fill="#111" stroke="#111" stroke-width="0.45">P_<tspan font-style="italic">s</tspan></text>
<line x1="148.5" y1="302.3" x2="171.0" y2="302.3" stroke="#ff22ff" stroke-width="1.3"/>
<text x="174.5" y="305.9" font-size="10" font-weight="bold" fill="#111" stroke="#111" stroke-width="0.45">P_<tspan font-style="italic">p</tspan></text>
<line x1="148.5" y1="314.9" x2="171.0" y2="314.9" stroke="#22ee22" stroke-width="1.3" stroke-dasharray="4.2 1.2 1.2 1.2"/>
<text x="174.5" y="318.5" font-size="10" font-weight="bold" fill="#111" stroke="#111" stroke-width="0.45">H_<tspan font-style="italic">s</tspan></text>
<clipPath id="clipd"><rect x="273.5" y="221.7" width="242.5" height="193.5"/></clipPath>
<g clip-path="url(#clipd)">
<polygon points="273.5,416.0 273.5,300.0 275.0,285.0 276.5,262.0 277.8,248.0 279.0,262.0 279.8,290.0 280.8,297.0 282.0,290.0 283.5,263.0 285.0,285.0 286.5,280.0 288.0,267.7 288.8,285.0 292.0,305.0 295.6,328.7 299.0,305.0 300.9,270.0 302.0,248.0 303.0,270.0 304.5,285.0 306.0,250.0 307.2,230.0 308.4,260.0 309.0,290.0 310.5,304.6 312.0,290.0 313.5,280.0 314.4,285.0 316.3,294.0 317.5,228.5 318.2,290.0 319.5,320.0 320.2,368.0 322.6,371.0 323.2,340.0 324.2,300.0 325.0,250.0 326.0,221.0 327.2,250.0 328.0,300.0 328.7,290.0 330.0,285.0 332.0,270.0 333.2,221.0 334.7,221.0 335.5,280.0 337.5,337.7 338.8,300.0 339.7,262.0 340.8,280.0 342.0,300.0 343.5,290.0 345.0,288.0 347.0,285.0 348.8,270.0 349.8,240.0 350.5,221.0 351.5,221.0 352.1,240.0 352.8,280.0 354.3,300.0 354.8,364.0 357.8,365.0 358.4,330.0 360.0,300.0 361.5,290.0 363.5,275.0 364.5,268.0 366.0,280.0 368.2,300.0 372.0,325.0 375.0,300.0 376.5,290.0 378.5,260.0 379.7,221.0 381.0,240.0 382.0,290.0 384.0,300.0 386.5,280.0 387.0,221.0 394.0,221.0 394.7,416.0" fill="#c5c5c5"/>
<polygon points="408.5,416.0 408.5,412.1 409.5,407.3 413.3,403.4 419.1,402.5 424.9,400.5 432.6,396.7 440.4,393.8 446.0,388.6 448.1,385.0 449.6,357.6 452.0,345.7 455.5,329.0 457.9,314.8 459.0,325.0 460.5,330.0 462.7,333.8 465.0,345.7 466.0,400.0 466.5,411.0 467.5,411.0 468.3,380.0 468.8,330.0 469.5,310.0 470.5,285.0 471.3,272.0 472.5,285.0 474.0,300.0 475.7,310.0 476.5,323.0 478.5,323.0 480.0,310.0 481.5,300.0 482.5,310.0 483.3,290.0 483.8,221.0 485.0,221.0 485.3,341.0 487.7,342.0 490.0,345.0 492.0,352.0 494.0,362.0 497.0,365.0 499.5,350.0 501.0,320.0 503.0,300.0 505.0,287.0 507.5,287.0 509.0,300.0 510.8,320.0 512.7,345.0 515.0,362.0 516.0,366.0 517.0,416.0" fill="#c5c5c5"/>
<polyline points="273.5,404.0 274.5,404.5 276.0,393.8 277.5,406.0 285.2,406.8 288.3,406.0 292.8,408.3 300.5,408.3 303.5,409.0 312.7,410.6 318.8,410.6 326.4,411.4 333.0,411.4 338.5,404.0 339.1,401.4 339.7,405.0 341.0,406.0 345.5,407.5 349.8,406.0 352.8,409.0 357.4,410.6 363.5,409.8 368.1,412.0 378.8,412.9 393.3,412.1" fill="none" stroke="#ff4c4c" stroke-width="1.1" stroke-linejoin="round" stroke-dasharray="1 0.8"/>
<polyline points="448.1,411.2 452.0,409.2 457.8,408.3 462.6,409.2 465.5,412.1 469.8,400.5 472.2,399.6 474.6,402.9 486.5,405.3 493.7,405.3 504.4,398.1 508.0,400.5 515.0,405.3 516.0,405.3" fill="none" stroke="#ff4c4c" stroke-width="1.1" stroke-linejoin="round" stroke-dasharray="1 0.8"/>
<polyline points="273.5,405.0 274.5,404.5 279.0,407.6 283.7,410.6 291.3,412.0 299.0,410.6 303.5,409.0 309.6,410.6 318.8,412.0 324.9,409.8 328.0,413.0 342.0,413.5 394.0,413.5" fill="none" stroke="#ffff00" stroke-width="1.2" stroke-linejoin="round" stroke-dasharray="2 2.4"/>
<polyline points="408.5,414.5 423.0,412.1 448.1,412.1 452.0,407.3 455.5,407.6 457.8,404.4 461.6,406.4 463.8,411.2 466.2,412.0 469.8,400.5 471.3,399.6 474.6,405.3 479.3,405.3 482.9,400.5 486.5,407.6 493.7,410.0 505.6,407.6 515.0,410.0 516.0,410.0" fill="none" stroke="#ffff00" stroke-width="1.2" stroke-linejoin="round" stroke-dasharray="2 2.4"/>
<polyline points="273.5,380.0 274.5,377.0 275.5,360.0 276.8,318.0 277.5,352.0 279.0,338.5 280.6,363.3 282.2,360.0 283.7,352.6 284.3,340.0 285.0,350.0 286.5,354.0 288.0,345.0 289.0,351.0 291.3,363.3 294.4,372.4 295.9,378.5 297.4,370.9 299.7,389.2 302.0,354.1 302.4,337.0 303.5,354.0 305.0,354.1 306.6,352.6 307.3,313.6 308.0,345.0 309.6,363.3 312.0,361.7 314.2,363.3 316.5,360.2 317.9,337.0 318.8,375.5 320.3,386.2 321.9,395.3 323.3,378.5 324.7,355.6 325.0,325.0 325.7,348.0 327.2,360.2 329.5,370.9 332.5,367.8 333.0,352.6 335.3,370.9 336.8,383.1 339.0,383.1 341.4,378.5 343.5,383.1 346.7,375.5 349.0,363.3 350.6,357.2 352.0,370.0 354.4,401.4 355.9,410.6 357.5,406.0 359.7,401.4 362.0,392.3 364.3,386.2 366.6,392.3 369.6,396.9 372.7,401.4 375.7,395.3 378.0,392.3 380.3,386.2 381.9,395.3 384.9,386.2 387.2,370.9 388.7,352.6 390.2,370.9 391.8,381.6 393.3,383.1 394.5,395.0" fill="none" stroke="#ff22ff" stroke-width="1.3" stroke-linejoin="round"/>
<polyline points="408.5,413.5 413.3,409.2 423.0,407.3 432.6,405.4 440.4,403.4 446.0,402.9 448.1,401.5 449.6,388.6 451.0,389.9 453.9,386.0 456.7,368.4 458.7,373.5 459.5,370.0 460.7,382.2 461.5,379.0 463.8,385.0 464.5,401.5 466.2,405.3 467.4,411.2 468.6,412.4 469.8,380.0 471.0,350.5 473.4,364.8 475.8,376.7 478.2,398.1 480.5,369.5 482.9,357.6 483.8,251.6 484.6,251.6 485.3,388.6 487.7,393.4 491.3,395.8 494.8,400.5 498.4,398.1 502.0,391.0 504.4,381.5 506.8,386.2 509.1,395.8 512.7,398.1 515.0,395.8 516.0,396.0" fill="none" stroke="#ff22ff" stroke-width="1.3" stroke-linejoin="round"/>
<polyline points="273.5,400.0 274.5,398.4 276.0,392.3 279.0,392.3 282.2,390.7 285.2,389.0 288.3,384.6 291.3,392.3 294.4,396.9 296.7,399.9 298.2,398.4 300.2,404.5 302.0,380.0 304.3,384.6 306.6,377.0 308.9,386.2 311.2,386.2 314.2,383.1 317.3,370.9 319.6,390.7 321.1,399.9 322.6,399.9 324.1,383.1 325.7,363.3 326.5,350.0 327.2,340.0 328.0,360.0 329.5,361.7 331.0,364.8 332.5,340.0 333.2,325.7 334.0,355.0 335.3,367.8 336.8,378.5 338.3,385.4 339.3,370.0 339.8,340.7 340.5,355.0 341.4,357.2 343.7,361.7 345.5,354.0 347.5,340.0 349.5,331.0 350.3,330.2 351.0,345.0 352.1,367.8 354.4,381.6 356.7,386.9 359.0,383.0 361.2,370.9 363.5,350.0 364.6,340.0 365.5,350.0 367.0,358.0 368.9,367.8 371.2,378.5 373.0,378.5 375.0,374.0 377.3,364.8 379.3,350.0 380.4,339.2 381.5,355.0 383.4,374.0 384.9,375.5 386.4,370.9 388.0,340.0 389.0,319.6 390.0,330.0 391.5,355.0 393.3,378.5 394.5,395.0" fill="none" stroke="#2626ff" stroke-width="1.3" stroke-linejoin="round"/>
<polyline points="408.5,414.0 423.0,411.2 432.6,410.2 448.1,408.3 450.8,405.3 452.0,403.4 455.5,398.1 458.7,396.7 461.6,399.6 464.5,401.5 466.2,405.3 467.4,412.4 469.8,400.5 471.3,393.8 472.2,388.6 474.6,393.4 478.2,398.1 481.7,391.0 484.1,381.5 485.3,395.8 487.7,398.1 491.3,395.8 494.8,398.1 497.2,391.0 500.8,379.0 503.2,362.4 505.6,356.5 508.0,369.5 510.3,383.8 512.7,391.0 515.0,388.6 516.0,389.0" fill="none" stroke="#2626ff" stroke-width="1.3" stroke-linejoin="round"/>
<polyline points="273.5,385.0 274.5,378.0 276.0,370.9 278.3,374.0 279.8,383.1 282.2,387.7 285.2,384.6 288.3,386.2 291.3,392.3 294.4,393.8 297.4,387.7 300.5,389.2 303.5,386.2 308.0,390.7 312.7,389.2 316.5,380.0 318.0,378.5 319.6,393.8 321.1,407.5 322.6,410.6 324.1,393.8 325.7,378.5 328.0,396.9 331.0,399.9 334.0,392.3 336.0,404.5 339.1,392.3 342.2,401.4 345.3,399.9 348.3,381.6 350.6,363.3 352.1,378.5 354.4,395.3 356.7,404.5 359.7,398.4 362.8,387.7 365.1,381.6 368.1,381.6 371.2,383.1 374.3,378.5 377.3,375.5 379.5,357.0 381.0,348.0 383.4,367.8 385.7,374.0 387.9,360.2 389.0,330.0 390.0,320.0 391.0,335.0 392.2,300.0 392.6,221.0 393.4,221.0 393.8,300.0 394.3,409.0" fill="none" stroke="#22ee22" stroke-width="1.3" stroke-linejoin="round" stroke-dasharray="4.2 1.2 1.2 1.2"/>
<polyline points="432.6,414.5 448.1,412.1 452.0,408.3 455.5,405.3 457.8,405.4 461.6,407.3 463.8,412.0 466.2,412.4 469.8,402.9 474.6,407.6 477.0,407.6 482.9,401.7 488.9,407.6 498.4,408.8 507.9,406.4 515.0,407.6 516.0,407.6" fill="none" stroke="#22ee22" stroke-width="1.3" stroke-linejoin="round" stroke-dasharray="4.2 1.2 1.2 1.2"/>
</g>
<line x1="394.8" y1="220.7" x2="394.8" y2="415.2" stroke="#222" stroke-width="1.5" stroke-dasharray="7.2 7.1"/>
<rect x="273.5" y="221.7" width="242.5" height="193.5" fill="none" stroke="#1c1c1c" stroke-width="1.5"/>
<line x1="273.50" y1="415.2" x2="273.50" y2="418.7" stroke="#1c1c1c" stroke-width="1.2"/>
<line x1="285.62" y1="415.2" x2="285.62" y2="417.5" stroke="#1c1c1c" stroke-width="1.2"/>
<line x1="297.75" y1="415.2" x2="297.75" y2="418.7" stroke="#1c1c1c" stroke-width="1.2"/>
<line x1="309.88" y1="415.2" x2="309.88" y2="417.5" stroke="#1c1c1c" stroke-width="1.2"/>
<line x1="322.00" y1="415.2" x2="322.00" y2="418.7" stroke="#1c1c1c" stroke-width="1.2"/>
<line x1="334.12" y1="415.2" x2="334.12" y2="417.5" stroke="#1c1c1c" stroke-width="1.2"/>
<line x1="346.25" y1="415.2" x2="346.25" y2="418.7" stroke="#1c1c1c" stroke-width="1.2"/>
<line x1="358.38" y1="415.2" x2="358.38" y2="417.5" stroke="#1c1c1c" stroke-width="1.2"/>
<line x1="370.50" y1="415.2" x2="370.50" y2="418.7" stroke="#1c1c1c" stroke-width="1.2"/>
<line x1="382.62" y1="415.2" x2="382.62" y2="417.5" stroke="#1c1c1c" stroke-width="1.2"/>
<line x1="394.75" y1="415.2" x2="394.75" y2="418.7" stroke="#1c1c1c" stroke-width="1.2"/>
<line x1="406.88" y1="415.2" x2="406.88" y2="417.5" stroke="#1c1c1c" stroke-width="1.2"/>
<line x1="419.00" y1="415.2" x2="419.00" y2="418.7" stroke="#1c1c1c" stroke-width="1.2"/>
<line x1="431.12" y1="415.2" x2="431.12" y2="417.5" stroke="#1c1c1c" stroke-width="1.2"/>
<line x1="443.25" y1="415.2" x2="443.25" y2="418.7" stroke="#1c1c1c" stroke-width="1.2"/>
<line x1="455.38" y1="415.2" x2="455.38" y2="417.5" stroke="#1c1c1c" stroke-width="1.2"/>
<line x1="467.50" y1="415.2" x2="467.50" y2="418.7" stroke="#1c1c1c" stroke-width="1.2"/>
<line x1="479.62" y1="415.2" x2="479.62" y2="417.5" stroke="#1c1c1c" stroke-width="1.2"/>
<line x1="491.75" y1="415.2" x2="491.75" y2="418.7" stroke="#1c1c1c" stroke-width="1.2"/>
<line x1="503.88" y1="415.2" x2="503.88" y2="417.5" stroke="#1c1c1c" stroke-width="1.2"/>
<line x1="516.00" y1="415.2" x2="516.00" y2="418.7" stroke="#1c1c1c" stroke-width="1.2"/>
<text x="273.50" y="427.59999999999997" font-size="7.6" font-weight="bold" text-anchor="middle" fill="#111" stroke="#111" stroke-width="0.2">-5</text>
<text x="297.75" y="427.59999999999997" font-size="7.6" font-weight="bold" text-anchor="middle" fill="#111" stroke="#111" stroke-width="0.2">-4</text>
<text x="322.00" y="427.59999999999997" font-size="7.6" font-weight="bold" text-anchor="middle" fill="#111" stroke="#111" stroke-width="0.2">-3</text>
<text x="346.25" y="427.59999999999997" font-size="7.6" font-weight="bold" text-anchor="middle" fill="#111" stroke="#111" stroke-width="0.2">-2</text>
<text x="370.50" y="427.59999999999997" font-size="7.6" font-weight="bold" text-anchor="middle" fill="#111" stroke="#111" stroke-width="0.2">-1</text>
<text x="394.75" y="427.59999999999997" font-size="7.6" font-weight="bold" text-anchor="middle" fill="#111" stroke="#111" stroke-width="0.2">0</text>
<text x="419.00" y="427.59999999999997" font-size="7.6" font-weight="bold" text-anchor="middle" fill="#111" stroke="#111" stroke-width="0.2">1</text>
<text x="443.25" y="427.59999999999997" font-size="7.6" font-weight="bold" text-anchor="middle" fill="#111" stroke="#111" stroke-width="0.2">2</text>
<text x="467.50" y="427.59999999999997" font-size="7.6" font-weight="bold" text-anchor="middle" fill="#111" stroke="#111" stroke-width="0.2">3</text>
<text x="491.75" y="427.59999999999997" font-size="7.6" font-weight="bold" text-anchor="middle" fill="#111" stroke="#111" stroke-width="0.2">4</text>
<text x="516.00" y="427.59999999999997" font-size="7.6" font-weight="bold" text-anchor="middle" fill="#111" stroke="#111" stroke-width="0.2">5</text>
<text x="396.8" y="439.2" font-size="10.2" font-weight="bold" text-anchor="middle" fill="#111" stroke="#111" stroke-width="0.1">E-E<tspan font-size="7" dy="2.5">F</tspan><tspan dy="-2.5"> (eV)</tspan></text>
<text x="275.9" y="244.0" font-size="21.5" font-weight="bold" fill="#000" stroke="#000" stroke-width="0.5">(d)</text>
<rect x="348.0" y="225.5" width="41" height="14.4" fill="#000"/>
<rect x="345.5" y="223" width="41" height="14.4" fill="#fff" stroke="#d0d0d0" stroke-width="0.6"/>
<text x="366.3" y="234.2" font-size="10" font-weight="bold" text-anchor="middle" fill="#1e1ef0" stroke="#1e1ef0" stroke-width="0.35">4H-4-BP</text>
<rect x="400.5" y="223.5" width="22.5" height="10.6" fill="#c5c5c5" stroke="#b0b0b0" stroke-width="0.5"/>
<text x="426.5" y="232.7" font-size="10" font-weight="bold" fill="#111" stroke="#111" stroke-width="0.45">tot</text>
<line x1="400.5" y1="241.9" x2="423.0" y2="241.9" stroke="#ff4c4c" stroke-width="1.1" stroke-dasharray="1 0.8"/>
<text x="426.5" y="245.5" font-size="10" font-weight="bold" fill="#111" stroke="#111" stroke-width="0.45">B_<tspan font-style="italic">s</tspan></text>
<line x1="400.5" y1="254.5" x2="423.0" y2="254.5" stroke="#2626ff" stroke-width="1.3"/>
<text x="426.5" y="258.1" font-size="10" font-weight="bold" fill="#111" stroke="#111" stroke-width="0.45">B_<tspan font-style="italic">p</tspan></text>
<line x1="400.5" y1="267.1" x2="423.0" y2="267.1" stroke="#ffff00" stroke-width="1.2" stroke-dasharray="2 2.4"/>
<text x="426.5" y="270.7" font-size="10" font-weight="bold" fill="#111" stroke="#111" stroke-width="0.45">P_<tspan font-style="italic">s</tspan></text>
<line x1="400.5" y1="279.7" x2="423.0" y2="279.7" stroke="#ff22ff" stroke-width="1.3"/>
<text x="426.5" y="283.3" font-size="10" font-weight="bold" fill="#111" stroke="#111" stroke-width="0.45">P_<tspan font-style="italic">p</tspan></text>
<line x1="400.5" y1="292.3" x2="423.0" y2="292.3" stroke="#22ee22" stroke-width="1.3" stroke-dasharray="4.2 1.2 1.2 1.2"/>
<text x="426.5" y="295.9" font-size="10" font-weight="bold" fill="#111" stroke="#111" stroke-width="0.45">H_<tspan font-style="italic">s</tspan></text>
<text x="0" y="0" transform="translate(13.4 106.6) rotate(-90)" font-size="12.7" font-weight="bold" text-anchor="middle" fill="#111" stroke="#111" stroke-width="0.3">PDOS (arb.unit)</text>
<text x="0" y="0" transform="translate(13.4 317) rotate(-90)" font-size="12.7" font-weight="bold" text-anchor="middle" fill="#111" stroke="#111" stroke-width="0.3">PDOS (arb.unit)</text>
</svg>
</body></html>
